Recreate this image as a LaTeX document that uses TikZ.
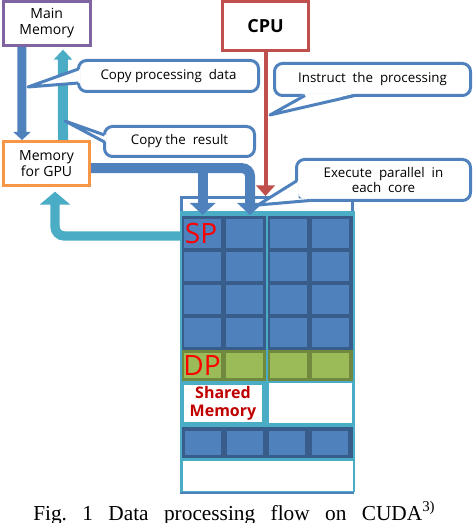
\documentclass[tikz,border=0pt]{standalone}
\usepackage{fontspec}
\setsansfont{Open Sans}
\newfontfamily\captionfont{Liberation Serif}
\usetikzlibrary{arrows.meta}

\definecolor{boxpurple}{HTML}{8064A2}
\definecolor{boxred}{HTML}{C0504D}
\definecolor{boxorange}{HTML}{F79646}
\definecolor{flowblue}{HTML}{4F81BD}
\definecolor{flowcyan}{HTML}{4BACC6}
\definecolor{coredark}{HTML}{385D8A}
\definecolor{corefill}{HTML}{4F81BD}
\definecolor{dpdark}{HTML}{71893F}
\definecolor{dpfill}{HTML}{9BBB59}
\definecolor{labelred}{HTML}{FF0000}
\definecolor{shmred}{HTML}{C00000}

\tikzset{
  membox/.style={draw, line width=2.25pt, fill=white, inner sep=0pt, align=center,
    font=\sffamily\fontsize{10.5}{12}\selectfont},
  calloutbox/.style={draw=flowblue, line width=2.25pt, fill=white, rounded corners=6pt,
    inner sep=0pt, align=center, font=\sffamily\fontsize{10}{11}\selectfont},
  tailline/.style={draw=flowblue, line width=2.25pt, line join=round},
  downarrow/.style={draw=flowblue, line width=6.75pt, -{Triangle[width=12.75pt,length=6pt]}},
  uparrow/.style={draw=flowcyan, line width=7.5pt, -{Triangle[width=13.5pt,length=7.5pt]}},
  feedarrow/.style={draw=flowblue, line width=7.5pt, -{Triangle[width=18.75pt,length=9pt]}},
  backarrow/.style={draw=flowcyan, line width=7pt, -{Triangle[width=22.5pt,length=9.75pt]}},
  cpuarrow/.style={draw=boxred, line width=3pt, -{Triangle[width=14pt,length=8pt]}},
  corelabel/.style={text=labelred, inner sep=0pt, font=\sffamily\fontsize{21}{21}\selectfont}
}

\begin{document}
\begin{tikzpicture}[x=0.75pt,y=0.75pt,yscale=-1,xscale=1]
\useasboundingbox (0,0) rectangle (474,523);

%Memory boxes and CPU
\node[membox, draw=boxpurple, minimum width=64.9pt, minimum height=33pt] (mainmem) at (46.75,23.5) {Main\\Memory};
\node[membox, draw=boxred, minimum width=64.5pt, minimum height=36.75pt,
  font=\sffamily\bfseries\fontsize{13.5}{14}\selectfont] (cpu) at (265.5,26) {CPU};
\node[membox, draw=boxorange, minimum width=64.5pt, minimum height=33pt] (gpumem) at (46.5,163.5) {Memory\\for GPU};

%GPU block
\node[draw=flowblue, line width=2.25pt, fill=white, inner sep=0pt,
  minimum width=128.6pt, minimum height=221.25pt] (gpu) at (267.25,345) {};
\fill[flowcyan] (179.5,211.5) rectangle (355,491.5);

%SP cores
\fill[coredark] (182,216) rectangle (265.5,350);
\fill[coredark] (267.5,216) rectangle (352.5,350);
\foreach \cx in {184,226,270,312}
  \foreach \cy in {219,252,285,318}
    \fill[corefill] (\cx,\cy) rectangle ++(37,29);
%DP cores
\fill[dpdark] (182,350) rectangle (265.5,381);
\fill[dpdark] (267.5,350) rectangle (352.5,381);
\foreach \cx in {184,226,270,312}
  \fill[dpfill] (\cx,353) rectangle ++(37,25);
\node[corelabel] (splabel) at (201,233) {SP};
\node[corelabel] (dplabel) at (202,365.5) {DP};

%Shared memory
\node[fill=white, inner sep=0pt, minimum width=58.5pt, minimum height=27.75pt, align=center,
  text=shmred, font=\sffamily\bfseries\fontsize{12}{13}\selectfont] (shmem) at (223,403.5) {Shared\\Memory};
\fill[white] (269,383) rectangle (352,423);

%last row
\fill[coredark] (182,427) rectangle (353,458);
\foreach \cx in {185,227,269,312}
  \fill[corefill] (\cx,431) rectangle ++(36,24);
\fill[white] (183,461) rectangle (352.5,491);

%Copy arrows between memories
\draw[downarrow] ([xshift=15pt]mainmem.south west) -- ([xshift=15pt]gpumem.north west);
\draw[uparrow, shorten >=2pt] ([xshift=45.75pt]gpumem.north west) -- ([xshift=45.75pt]mainmem.south west);

%Feed into the GPU (yshift is flipped by yscale=-1)
\coordinate (feed) at ([yshift=3.5pt]gpumem.east);
\coordinate (inA) at ([xshift=17pt,yshift=14.25pt]gpu.north west);
\coordinate (inB) at ([xshift=52.5pt,yshift=14.25pt]gpu.north west);
\draw[feedarrow, rounded corners=6pt] (feed) -| (inB);
\draw[feedarrow] (inA |- feed) -- (inA);

%Result back to memory for GPU
\coordinate (back) at ([yshift=30pt]gpu.north west);
\draw[backarrow, rounded corners=7pt, shorten >=3.5pt] (back) -| ([xshift=39.75pt]gpumem.south west);

%CPU instruction
\draw[cpuarrow] (cpu.south) -- (cpu.south |- gpu.north);

%Callout: copy processing data
\node[calloutbox, minimum width=135pt, minimum height=23.25pt] (copydata) at (168.5,76) {Copy processing\ \ data};
\fill[white] (80.5,69) -- (28,87) -- (80.5,83) -- cycle;
\draw[tailline] (78.5,69) -- (28,87) -- (78.5,83);

%Callout: copy the result
\node[calloutbox, minimum width=112.5pt, minimum height=22.5pt] (copyres) at (179.5,141.5) {Copy the\ \ result};
\fill[white] (106.5,135) -- (65,121) -- (106.5,142) -- cycle;
\draw[tailline] (104.5,135) -- (65,121) -- (104.5,142);

%Callout: instruct the processing
\node[calloutbox, minimum width=147pt, minimum height=24pt] (instruct) at (372.5,79.5) {Instruct\ \ the\ \ processing};
\fill[white] (305,93.5) -- (270,115) -- (355,93.5) -- cycle;
\draw[tailline] (305,95.5) -- (270,115) -- (355,95.5);

%Callout: execute parallel
\node[calloutbox, minimum width=130.5pt, minimum height=30.75pt] (execute) at (383.5,180) {Execute\ \ parallel\ \ in\\each\ \ core};
\fill[white] (298.5,181) -- (258,205) -- (310,202) -- (310,198.5) -- (298.5,198.5) -- cycle;
\draw[tailline] (296.5,181) -- (258,205) -- (310,200.5);

% Text Node
\node[anchor=base west, inner sep=0pt, font=\captionfont\fontsize{16}{18}\selectfont] (caption) at (33,520)
  {\makebox[291.75pt][s]{Fig.\ 1\ Data\ processing\ flow\ on\ CUDA}\textsuperscript{3)}};

\end{tikzpicture}
\end{document}
